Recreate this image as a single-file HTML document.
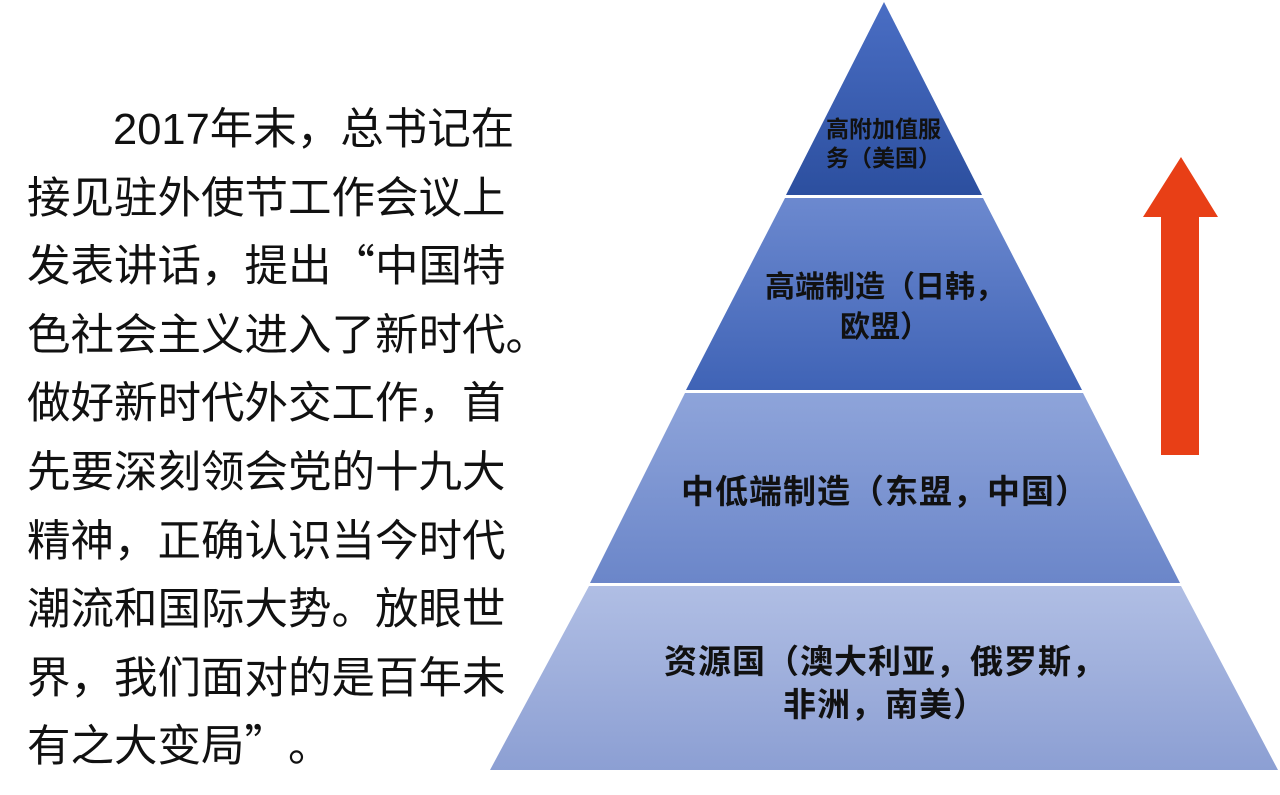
<!DOCTYPE html>
<html><head><meta charset="utf-8"><style>
body{margin:0;width:1280px;height:795px;background:#fff;overflow:hidden;position:relative;font-family:"Liberation Sans","Noto Sans CJK SC",sans-serif}
.t{position:absolute;left:27px;top:96px;width:540px;font-size:43.5px;line-height:68.6px;color:#111;letter-spacing:0}
.q{font-family:"Noto Sans CJK SC",sans-serif;line-height:0;display:inline-block;vertical-align:baseline}
.l{position:absolute;font-weight:bold;color:#111;text-align:center}
</style></head><body>
<div class="t"><span style="padding-left:86px">2017年末，总书记在</span><br>接见驻外使节工作会议上<br>发表讲话，提出<span class="q">“</span>中国特<br>色社会主义进入了新时代。<br>做好新时代外交工作，首<br>先要深刻领会党的十九大<br>精神，正确认识当今时代<br>潮流和国际大势。放眼世<br>界，我们面对的是百年未<br>有之大变局<span class="q">”</span>。</div>
<svg width="1280" height="795" style="position:absolute;left:0;top:0">
<defs>
<linearGradient id="g1" x1="0" y1="0" x2="0" y2="1"><stop offset="0" stop-color="#4a6ec4"/><stop offset="1" stop-color="#2c4f9f"/></linearGradient>
<linearGradient id="g2" x1="0" y1="0" x2="0" y2="1"><stop offset="0" stop-color="#6c89cf"/><stop offset="1" stop-color="#3f63b6"/></linearGradient>
<linearGradient id="g3" x1="0" y1="0" x2="0" y2="1"><stop offset="0" stop-color="#8ea4da"/><stop offset="1" stop-color="#6b86c9"/></linearGradient>
<linearGradient id="g4" x1="0" y1="0" x2="0" y2="1"><stop offset="0" stop-color="#b0bee4"/><stop offset="1" stop-color="#8c9fd3"/></linearGradient>
</defs>
<polygon points="884,2 982,195 786,195" fill="url(#g1)"/>
<polygon points="785,198 983,198 1082,390 686,390" fill="url(#g2)"/>
<polygon points="685,393 1083,393 1180,583 590,583" fill="url(#g3)"/>
<polygon points="589,586 1181,586 1278,770 490,770" fill="url(#g4)"/>
<polygon points="1161,455 1199,455 1199,217 1218,217 1181,157 1143,217 1161,217" fill="#e83f16"/>
</svg>
<div class="l" style="left:826px;top:115px;width:160px;font-size:23px;line-height:29px;text-align:left">高附加值服<br>务（美国）</div>
<div class="l" style="left:740px;top:268px;width:290px;font-size:30px;line-height:40px">高端制造（日韩，<br>欧盟）</div>
<div class="l" style="left:580px;top:472px;width:610px;font-size:33px;line-height:40px;letter-spacing:1px">中低端制造（东盟，中国）</div>
<div class="l" style="left:570px;top:640px;width:630px;font-size:33px;line-height:43px;letter-spacing:1px">资源国（澳大利亚，俄罗斯，<br>非洲，南美）</div>
</body></html>
